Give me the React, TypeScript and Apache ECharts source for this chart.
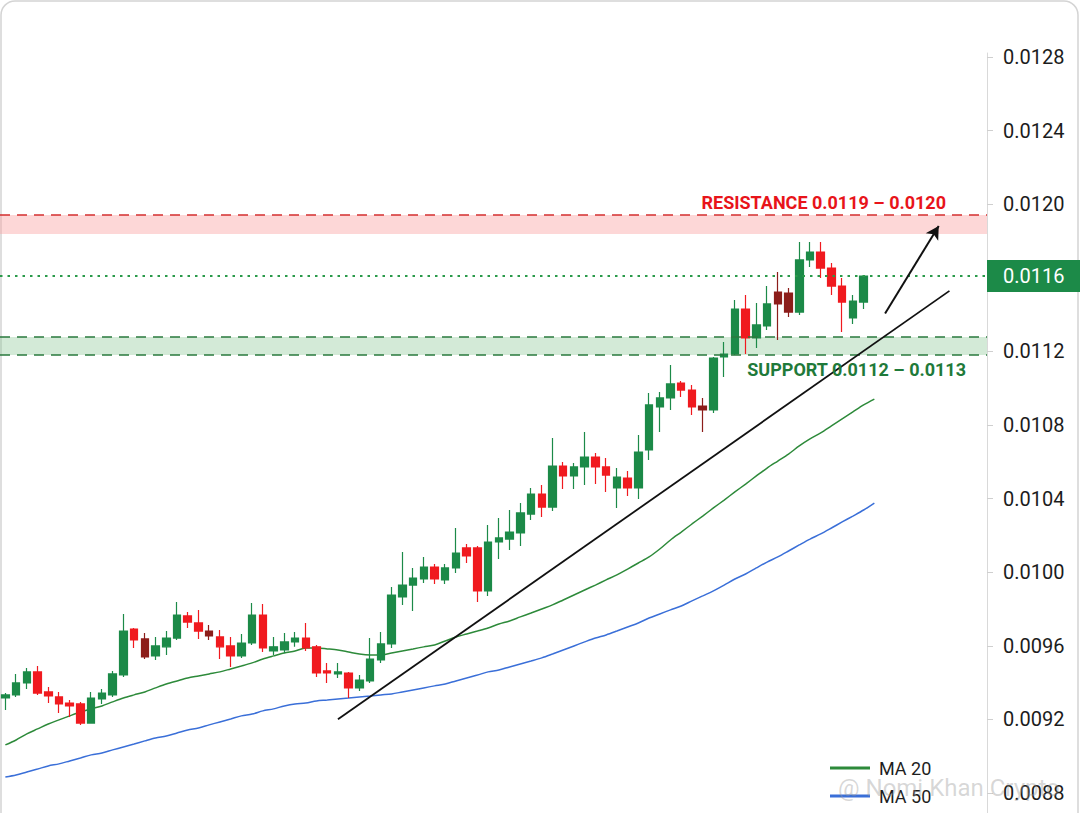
import React, { useEffect, useRef } from "react";
import * as echarts from "echarts";

// ---------- data ----------
const categories: string[] = Array.from({ length: 92 }, (_, i) => `D${i + 1}`);

const opens = [
  0.009316, 0.009333, 0.009398, 0.009458, 0.009349, 0.009322, 0.009289, 0.009284, 0.00918, 0.009311,
  0.009333, 0.009441, 0.009691, 0.009637, 0.009545, 0.009594, 0.009642, 0.009762, 0.009724, 0.00968,
  0.009648, 0.009599, 0.009545, 0.009615, 0.009767, 0.009572, 0.009577, 0.009621, 0.009642, 0.009594,
  0.009463, 0.009447, 0.009452, 0.009371, 0.009409, 0.009523, 0.00961, 0.009865, 0.00993, 0.009963,
  0.010028, 0.009958, 0.010023, 0.010132, 0.010132, 0.009898, 0.010164, 0.01018, 0.010213, 0.010316,
  0.010425, 0.010354, 0.010577, 0.010523, 0.010572, 0.010626, 0.010572, 0.010458, 0.010512, 0.010458,
  0.010664, 0.010898, 0.010947, 0.011028, 0.01099, 0.010903, 0.010882, 0.01117, 0.011186, 0.01143,
  0.011273, 0.011338, 0.011523, 0.011517, 0.011414, 0.011697, 0.01174, 0.011653, 0.011555, 0.011382,
  0.011468,
];
const closes = [
  0.009333, 0.009398, 0.009458, 0.009343, 0.009327, 0.009284, 0.009273, 0.00918, 0.009316, 0.009343,
  0.009447, 0.00968, 0.009632, 0.009539, 0.009599, 0.009642, 0.009767, 0.009729, 0.00968, 0.009653,
  0.009594, 0.009545, 0.009615, 0.009767, 0.009588, 0.009594, 0.009621, 0.009642, 0.009588, 0.009452,
  0.009452, 0.009458, 0.009371, 0.009414, 0.009528, 0.00961, 0.009876, 0.00993, 0.009968, 0.010028,
  0.009963, 0.010023, 0.010104, 0.010088, 0.009898, 0.010164, 0.010186, 0.010218, 0.010322, 0.010425,
  0.010354, 0.010577, 0.010523, 0.010572, 0.010626, 0.010572, 0.010528, 0.010517, 0.010458, 0.010653,
  0.010909, 0.010947, 0.011023, 0.01099, 0.010898, 0.010882, 0.011164, 0.011186, 0.01143, 0.011273,
  0.011344, 0.011458, 0.011458, 0.011414, 0.011697, 0.01174, 0.011653, 0.011555, 0.011468, 0.011474,
  0.01161,
];
const lows = [
  0.009251, 0.009322, 0.009365, 0.009333, 0.009289, 0.009235, 0.009213, 0.00917, 0.00918, 0.009284,
  0.009322, 0.00943, 0.009588, 0.009528, 0.009523, 0.00955, 0.009632, 0.009697, 0.009637, 0.009632,
  0.009528, 0.009485, 0.009534, 0.009604, 0.009566, 0.00955, 0.009561, 0.009594, 0.009572, 0.00943,
  0.009398, 0.009425, 0.009316, 0.009354, 0.009398, 0.009507, 0.009588, 0.009822, 0.009789, 0.009941,
  0.009936, 0.009936, 0.009996, 0.01005, 0.009838, 0.009871, 0.010072, 0.010121, 0.010142, 0.010284,
  0.0103, 0.010333, 0.010452, 0.010452, 0.010474, 0.010479, 0.010436, 0.010349, 0.010414, 0.010398,
  0.01061, 0.010762, 0.010882, 0.010952, 0.010854, 0.010762, 0.010865, 0.011061, 0.01118, 0.011186,
  0.011218, 0.011316, 0.011262, 0.011387, 0.011398, 0.011659, 0.011599, 0.011507, 0.011305, 0.011349,
  0.01143,
];
const highs = [
  0.009343, 0.009447, 0.009479, 0.00949, 0.009376, 0.009349, 0.009305, 0.009295, 0.009349, 0.009365,
  0.009463, 0.009773, 0.009697, 0.00967, 0.009648, 0.00968, 0.009838, 0.009784, 0.009795, 0.009713,
  0.009686, 0.009648, 0.009664, 0.009833, 0.009827, 0.009648, 0.00967, 0.009675, 0.009724, 0.009604,
  0.009507, 0.009507, 0.009458, 0.009441, 0.009642, 0.009675, 0.00992, 0.01011, 0.010023, 0.010083,
  0.010045, 0.010045, 0.01024, 0.010153, 0.010142, 0.010257, 0.010295, 0.010338, 0.010376, 0.010458,
  0.010474, 0.010729, 0.010599, 0.010594, 0.010762, 0.010648, 0.010621, 0.010566, 0.01055, 0.010746,
  0.010974, 0.010979, 0.011126, 0.011039, 0.011017, 0.010947, 0.01117, 0.011251, 0.011479, 0.011507,
  0.011463, 0.011555, 0.011632, 0.011545, 0.011795, 0.011795, 0.011795, 0.01168, 0.011599, 0.011507,
  0.01161,
];
// candles drawn in a darker red in the picture
const darkCandles = [13, 19, 65, 72, 73];

const ma20 = [
  0.009061, 0.009088, 0.009121, 0.009148, 0.009175, 0.009197, 0.009219, 0.00924, 0.009257, 0.009273,
  0.009295, 0.009316, 0.009333, 0.009349, 0.009371, 0.009392, 0.009409, 0.009425, 0.009436, 0.009447,
  0.009458, 0.009474, 0.00949, 0.009507, 0.009528, 0.009545, 0.009561, 0.009572, 0.009588, 0.009588,
  0.009583, 0.009577, 0.009566, 0.009555, 0.00955, 0.00955, 0.009561, 0.009572, 0.009583, 0.009594,
  0.009604, 0.009626, 0.009648, 0.009664, 0.00968, 0.009697, 0.009718, 0.009735, 0.009757, 0.009778,
  0.0098, 0.009822, 0.009849, 0.009876, 0.009903, 0.00993, 0.009958, 0.009985, 0.010017, 0.01005,
  0.010083, 0.010126, 0.010175, 0.010218, 0.010262, 0.010305, 0.010349, 0.010392, 0.010436, 0.010479,
  0.010523, 0.010566, 0.010604, 0.010642, 0.010686, 0.010724, 0.010757, 0.010795, 0.010833, 0.010871,
  0.010909, 0.010941,
];
const ma50 = [
  0.008887, 0.008898, 0.008914, 0.00893, 0.008947, 0.008958, 0.008974, 0.00899, 0.009007, 0.009017,
  0.009034, 0.00905, 0.009066, 0.009083, 0.009099, 0.00911, 0.009126, 0.009142, 0.009153, 0.00917,
  0.009186, 0.009202, 0.009219, 0.009229, 0.009246, 0.009257, 0.009273, 0.009284, 0.009289, 0.0093,
  0.009305, 0.009311, 0.009316, 0.009322, 0.009327, 0.009333, 0.009338, 0.009349, 0.00936, 0.009371,
  0.009382, 0.009392, 0.009409, 0.009425, 0.009441, 0.009458, 0.009468, 0.009485, 0.009501, 0.009517,
  0.009534, 0.009555, 0.009577, 0.009599, 0.009621, 0.009642, 0.009659, 0.00968, 0.009702, 0.009724,
  0.009751, 0.009773, 0.009795, 0.009816, 0.009844, 0.009871, 0.009898, 0.00993, 0.009963, 0.00999,
  0.010023, 0.010055, 0.010083, 0.010115, 0.010148, 0.01018, 0.010208, 0.01024, 0.010273, 0.010305,
  0.010338, 0.010376,
];

const tickValues = [0.0088, 0.0092, 0.0096, 0.01, 0.0104, 0.0108, 0.0112, 0.0116, 0.012, 0.0124, 0.0128];

const currentPrice = 0.01161;
const resistanceBand = [0.011941, 0.011838];
const supportBand = [0.011278, 0.01118];
const resistanceText = "RESISTANCE 0.0119 – 0.0120";
const supportText = "SUPPORT 0.0112 – 0.0113";
const trendStart = { idx: 31, value: 0.0092 };
const trendEnd = { idx: 88, value: 0.011529 };
const arrowStart = { idx: 82, value: 0.011406 };
const arrowEnd = { idx: 87, value: 0.011882 };
const watermark = "@ Nomi Khan Crypto";

// ---------- styles ----------
const GREEN = "#1c8a48";
const RED = "#f01a1f";
const DARK_RED = "#8c1d1a";
const FONT = "Roboto, 'Noto Sans', sans-serif";

function buildOption() {
  const candleData = opens.map((o, i) => {
    const item: any = { value: [o, closes[i], lows[i], highs[i]] };
    if (darkCandles.includes(i)) {
      item.itemStyle = { color0: DARK_RED, borderColor0: DARK_RED };
    }
    return item;
  });

  return {
    animation: false,
    backgroundColor: "#ffffff",
    grid: { left: 0, right: 93, top: 53, bottom: 0, containLabel: false },
    legend: {
      data: ["MA 20", "MA 50"],
      orient: "vertical",
      left: 830,
      top: 759,
      padding: 0,
      icon: "rect",
      itemWidth: 40,
      itemHeight: 3,
      itemGap: 10,
      textStyle: { fontSize: 18, color: "#1e1e1e", fontFamily: FONT, padding: [0, 0, 0, 4] },
    },
    xAxis: {
      type: "category",
      data: categories,
      show: false,
      boundaryGap: true,
    },
    yAxis: {
      type: "value",
      position: "right",
      min: 0.008691,
      max: 0.012822,
      splitLine: { show: false },
      axisLine: { show: true, lineStyle: { color: "#d9d9d9", width: 1 } },
      axisTick: { show: true, length: 6, lineStyle: { color: "#cfcfcf" }, customValues: tickValues },
      axisLabel: {
        customValues: tickValues,
        formatter: (v: number) => v.toFixed(4),
        fontSize: 20,
        color: "#1c1c1c",
        margin: 16,
        fontFamily: FONT,
      },
    },
    graphic: [
      {
        type: "rect",
        silent: true,
        z: -10,
        shape: { x: 1, y: 1, width: 1077, height: 840, r: 14 },
        style: { fill: "none", stroke: "#d4d4d4", lineWidth: 1.5 },
      },
      {
        type: "text",
        silent: true,
        z: 100,
        left: 838,
        top: 776,
        style: {
          text: watermark,
          fill: "rgba(150,150,150,0.38)",
          font: "24px " + FONT,
        },
      },
    ],
    series: [
      {
        name: "MA 20",
        type: "line",
        data: ma20,
        showSymbol: false,
        smooth: 0.3,
        lineStyle: { color: "#2d8a3a", width: 1.5 },
        itemStyle: { color: "#2d8a3a" },
        z: 2,
      },
      {
        name: "MA 50",
        type: "line",
        data: ma50,
        showSymbol: false,
        smooth: 0.3,
        lineStyle: { color: "#3a6fd8", width: 1.5 },
        itemStyle: { color: "#3a6fd8" },
        z: 2,
      },
      {
        name: "Price",
        type: "candlestick",
        data: candleData,
        barWidth: 8,
        z: 3,
        itemStyle: {
          color: GREEN,
          color0: RED,
          borderColor: GREEN,
          borderColor0: RED,
          borderWidth: 1.2,
        },
        markArea: {
          silent: true,
          data: [
            [
              { yAxis: resistanceBand[0], itemStyle: { color: "rgba(250,160,160,0.42)" } },
              { yAxis: resistanceBand[1] },
            ],
            [
              { yAxis: supportBand[0], itemStyle: { color: "rgba(140,200,150,0.38)" } },
              { yAxis: supportBand[1] },
            ],
          ],
        },
        markLine: {
          silent: true,
          precision: 6,
          symbol: ["none", "none"],
          label: { show: false },
          data: [
            {
              yAxis: currentPrice,
              lineStyle: { color: "#2a9a4a", type: [2.5, 5], width: 2.2 },
              label: {
                show: true,
                position: "end",
                distance: 0,
                formatter: (p: any) => Number(p.value).toFixed(4),
                backgroundColor: GREEN,
                color: "#ffffff",
                fontSize: 20,
                fontFamily: FONT,
                padding: [6, 22, 6, 16],
              },
            },
            {
              yAxis: resistanceBand[0],
              lineStyle: { color: "#d42f2f", type: [10, 7], width: 1.7 },
              label: {
                show: true,
                position: "insideEndTop",
                formatter: resistanceText,
                color: "#e8141a",
                fontSize: 18,
                fontWeight: "bold",
                fontFamily: FONT,
                padding: [0, 37, 0, 0],
                distance: 4,
              },
            },
            {
              yAxis: supportBand[0],
              lineStyle: { color: "#2a7a3e", type: [10, 7], width: 1.7 },
            },
            {
              yAxis: supportBand[1],
              lineStyle: { color: "#2a7a3e", type: [10, 7], width: 1.7 },
              label: {
                show: true,
                position: "insideEndBottom",
                formatter: supportText,
                color: "#1f7a3a",
                fontSize: 18,
                fontWeight: "bold",
                fontFamily: FONT,
                padding: [0, 16, 0, 0],
                distance: 5,
              },
            },
            [
              { coord: [categories[trendStart.idx], trendStart.value], symbol: "none" },
              {
                coord: [categories[trendEnd.idx], trendEnd.value],
                symbol: "none",
                lineStyle: { color: "#111111", type: "solid", width: 1.8 },
              },
            ],
            [
              { coord: [categories[arrowStart.idx], arrowStart.value], symbol: "none" },
              {
                coord: [categories[arrowEnd.idx], arrowEnd.value],
                symbol: "arrow",
                symbolSize: [11, 13],
                lineStyle: { color: "#111111", type: "solid", width: 2 },
                itemStyle: { color: "#111111" },
              },
            ],
          ],
        },
      },
    ],
  };
}

export default function App() {
  const ref = useRef<HTMLDivElement>(null);
  useEffect(() => {
    if (!ref.current) return;
    const chart = echarts.init(ref.current, null, { renderer: "svg" });
    chart.setOption(buildOption() as any);
    return () => chart.dispose();
  }, []);
  return (
    <div
      ref={ref}
      style={{ position: "fixed", left: 0, top: 0, width: 1080, height: 813, background: "#fff" }}
    />
  );
}
